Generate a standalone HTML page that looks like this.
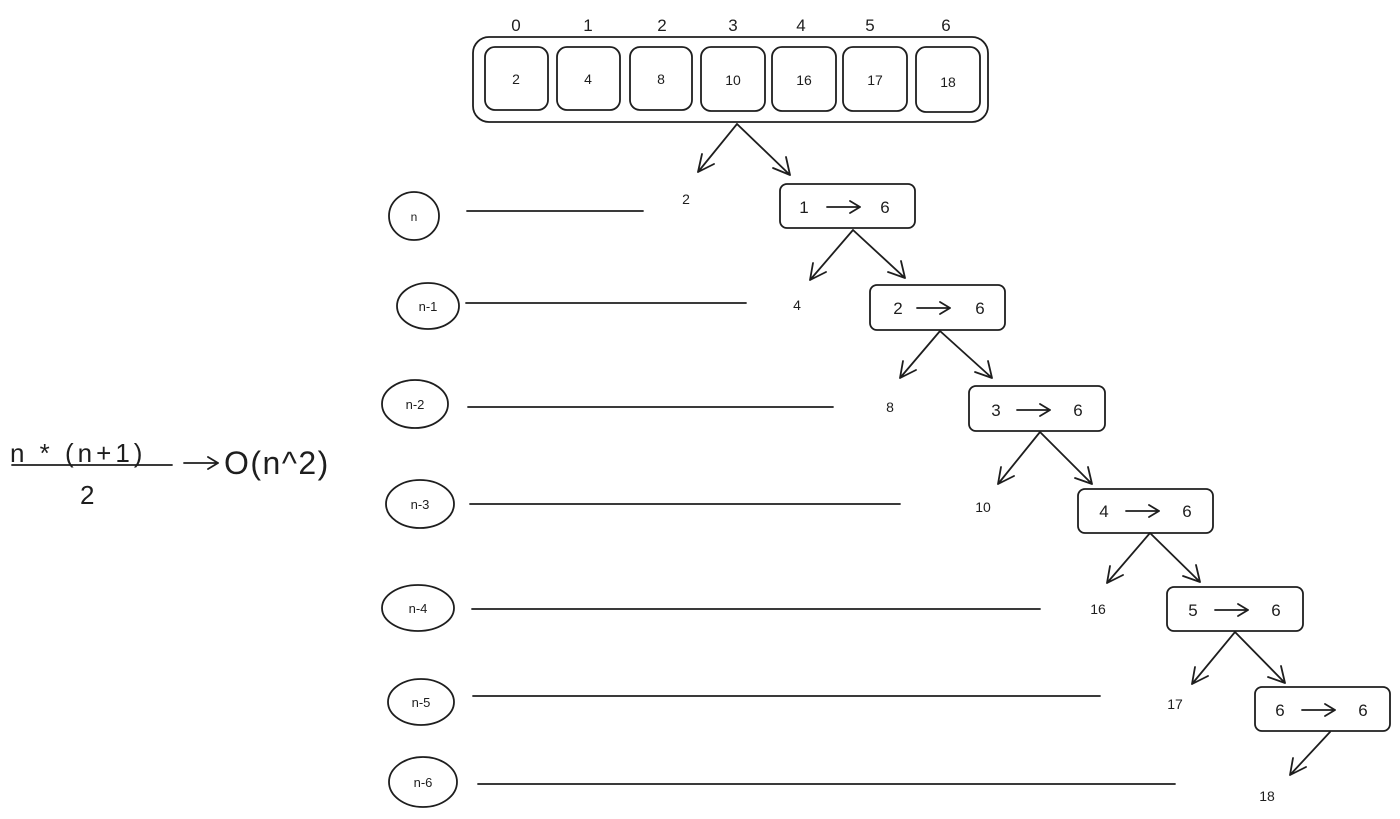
<!DOCTYPE html>
<html><head><meta charset="utf-8"><style>
html,body{margin:0;padding:0;background:#fff;}
svg{display:block;}
text{font-family:"Liberation Sans",sans-serif;fill:#1e1e1e;}
</style></head><body>
<svg width="1400" height="819" viewBox="0 0 1400 819" xmlns="http://www.w3.org/2000/svg">
<g fill="none" stroke="#1e1e1e" stroke-width="1.8" stroke-linecap="round">
<rect x="473" y="37" width="515" height="85" rx="16"/>
<rect x="485" y="47" width="63" height="63" rx="10"/>
<rect x="557" y="47" width="63" height="63" rx="10"/>
<rect x="630" y="47" width="62" height="63" rx="10"/>
<rect x="701" y="47" width="64" height="64" rx="10"/>
<rect x="772" y="47" width="64" height="64" rx="10"/>
<rect x="843" y="47" width="64" height="64" rx="10"/>
<rect x="916" y="47" width="64" height="65" rx="10"/>

<rect x="780" y="184" width="135" height="44" rx="7"/>
<rect x="870" y="285" width="135" height="45" rx="7"/>
<rect x="969" y="386" width="136" height="45" rx="7"/>
<rect x="1078" y="489" width="135" height="44" rx="7"/>
<rect x="1167" y="587" width="136" height="44" rx="7"/>
<rect x="1255" y="687" width="135" height="44" rx="7"/>

<ellipse cx="414" cy="216" rx="25" ry="24"/>
<ellipse cx="428" cy="306" rx="31" ry="23"/>
<ellipse cx="415" cy="404" rx="33" ry="24"/>
<ellipse cx="420" cy="504" rx="34" ry="24"/>
<ellipse cx="418" cy="608" rx="36" ry="23"/>
<ellipse cx="421" cy="702" rx="33" ry="23"/>
<ellipse cx="423" cy="782" rx="34" ry="25"/>

<path d="M467 211H643M466 303H746M468 407H833M470 504H900M472 609H1040M473 696H1100M478 784H1175"/>

<path d="M737 124L698 172M698 172l4 -18M698 172l16 -8M737 124L790 175M790 175l-4 -18M790 175l-17 -7"/>
<path d="M853 230L810 280M810 280l3 -17M810 280l16 -8M853 230L905 278M905 278l-4 -17M905 278l-17 -6"/>
<path d="M940 331L900 378M900 378l3 -17M900 378l16 -8M940 331L992 378M992 378l-4 -17M992 378l-17 -6"/>
<path d="M1040 432L998 484M998 484l3 -17M998 484l16 -8M1040 432L1092 484M1092 484l-4 -17M1092 484l-17 -6"/>
<path d="M1150 533L1107 583M1107 583l3 -17M1107 583l16 -8M1150 533L1200 582M1200 582l-4 -17M1200 582l-17 -6"/>
<path d="M1235 632L1192 684M1192 684l3 -17M1192 684l16 -8M1235 632L1285 683M1285 683l-4 -17M1285 683l-17 -6"/>
<path d="M1330 732L1290 775M1290 775l3 -17M1290 775l16 -8"/>

<path d="M827 207H860M860 207l-10 -6M860 207l-10 6"/>
<path d="M917 308H950M950 308l-10 -6M950 308l-10 6"/>
<path d="M1017 410H1050M1050 410l-10 -6M1050 410l-10 6"/>
<path d="M1126 511H1159M1159 511l-10 -6M1159 511l-10 6"/>
<path d="M1215 610H1248M1248 610l-10 -6M1248 610l-10 6"/>
<path d="M1302 710H1335M1335 710l-10 -6M1335 710l-10 6"/>

<path d="M12 465H172M184 463H218M218 463l-10 -6M218 463l-10 6"/>
</g>
<g font-size="17" text-anchor="middle">
<text x="516" y="31">0</text><text x="588" y="31">1</text><text x="662" y="31">2</text><text x="733" y="31">3</text><text x="801" y="31">4</text><text x="870" y="31">5</text><text x="946" y="31">6</text>
</g>
<g font-size="14" text-anchor="middle">
<text x="516" y="84">2</text><text x="588" y="84">4</text><text x="661" y="84">8</text><text x="733" y="85">10</text><text x="804" y="85">16</text><text x="875" y="85">17</text><text x="948" y="87">18</text>
<text x="686" y="204">2</text><text x="797" y="310">4</text><text x="890" y="412">8</text><text x="983" y="512">10</text><text x="1098" y="614">16</text><text x="1175" y="709">17</text><text x="1267" y="801">18</text>
<text x="414" y="221" font-size="12">n</text><text x="428" y="311" font-size="13">n-1</text><text x="415" y="409" font-size="13">n-2</text><text x="420" y="509" font-size="13">n-3</text><text x="418" y="613" font-size="13">n-4</text><text x="421" y="707" font-size="13">n-5</text><text x="423" y="787" font-size="13">n-6</text>
</g>
<g font-size="17" text-anchor="middle">
<text x="804" y="213">1</text><text x="885" y="213">6</text>
<text x="898" y="314">2</text><text x="980" y="314">6</text>
<text x="996" y="416">3</text><text x="1078" y="416">6</text>
<text x="1104" y="517">4</text><text x="1187" y="517">6</text>
<text x="1193" y="616">5</text><text x="1276" y="616">6</text>
<text x="1280" y="716">6</text><text x="1363" y="716">6</text>
</g>
<text x="10" y="462" font-size="26" letter-spacing="4">n * (n+1)</text>
<text x="80" y="504" font-size="26">2</text>
<text x="224" y="474" font-size="32" letter-spacing="1.5">O(n^2)</text>
</svg>
</body></html>
